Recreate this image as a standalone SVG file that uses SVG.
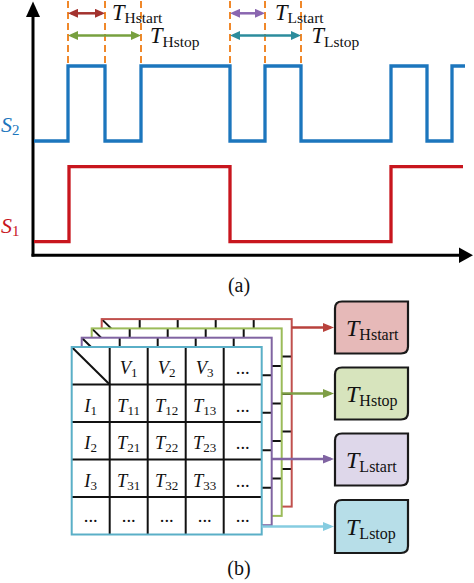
<svg xmlns="http://www.w3.org/2000/svg" width="474" height="583" viewBox="0 0 474 583">
<style>
text{font-family:"Liberation Serif","Times New Roman",serif;fill:#111}
.it{font-style:italic}
.dash{stroke:#F0882A;stroke-width:2;stroke-dasharray:7 4;fill:none}
.grid line{stroke:#111;stroke-width:2}
.cell{font-size:18.5px;text-anchor:middle}
.sub{font-size:13px}
.box{stroke:#1a1a1a;stroke-width:2.2}
.bt{font-size:24px}
.bs{font-size:16px;font-style:normal}
</style>
<defs>
<marker id="mHs" markerUnits="userSpaceOnUse" markerWidth="10" markerHeight="9" refX="7" refY="4.5" orient="auto-start-reverse"><path d="M0,0 L10,4.5 L0,9 z" fill="#A3322E"/></marker>
<marker id="mHp" markerUnits="userSpaceOnUse" markerWidth="10" markerHeight="9" refX="7" refY="4.5" orient="auto-start-reverse"><path d="M0,0 L10,4.5 L0,9 z" fill="#77A03F"/></marker>
<marker id="mLs" markerUnits="userSpaceOnUse" markerWidth="10" markerHeight="9" refX="7" refY="4.5" orient="auto-start-reverse"><path d="M0,0 L10,4.5 L0,9 z" fill="#8A66B0"/></marker>
<marker id="mLp" markerUnits="userSpaceOnUse" markerWidth="10" markerHeight="9" refX="7" refY="4.5" orient="auto-start-reverse"><path d="M0,0 L10,4.5 L0,9 z" fill="#2C8C9C"/></marker>
<marker id="cR" markerUnits="userSpaceOnUse" markerWidth="11" markerHeight="9" refX="8" refY="4.5" orient="auto"><path d="M0,0 L11,4.5 L0,9 z" fill="#B8423C"/></marker>
<marker id="cG" markerUnits="userSpaceOnUse" markerWidth="11" markerHeight="9" refX="8" refY="4.5" orient="auto"><path d="M0,0 L11,4.5 L0,9 z" fill="#7E9E45"/></marker>
<marker id="cP" markerUnits="userSpaceOnUse" markerWidth="11" markerHeight="9" refX="8" refY="4.5" orient="auto"><path d="M0,0 L11,4.5 L0,9 z" fill="#8064A2"/></marker>
<marker id="cB" markerUnits="userSpaceOnUse" markerWidth="11" markerHeight="9" refX="8" refY="4.5" orient="auto"><path d="M0,0 L11,4.5 L0,9 z" fill="#86CCE0"/></marker>
<g id="grid" class="grid">
<rect x="0" y="0" width="190" height="187.5" fill="#fff"/>
<line x1="38" y1="0" x2="38" y2="187.5"/>
<line x1="76" y1="0" x2="76" y2="187.5"/>
<line x1="114" y1="0" x2="114" y2="187.5"/>
<line x1="152" y1="0" x2="152" y2="187.5"/>
<line x1="0" y1="37.5" x2="190" y2="37.5"/>
<line x1="0" y1="75" x2="190" y2="75"/>
<line x1="0" y1="112.5" x2="190" y2="112.5"/>
<line x1="0" y1="150" x2="190" y2="150"/>
<line x1="0" y1="0" x2="38" y2="37.5"/>
</g>
</defs>

<!-- (a) timing diagram -->
<g id="axes">
<path d="M33,256.5 V15" stroke="#000" stroke-width="3" fill="none"/>
<polygon points="33,1.5 40,17 26,17" fill="#000"/>
<path d="M31.5,255.3 H461" stroke="#000" stroke-width="3" fill="none"/>
<polygon points="473,255.3 459,247.5 459,263" fill="#000"/>
</g>
<g id="markers-orange">
<line class="dash" x1="68" y1="1" x2="68" y2="66"/>
<line class="dash" x1="105" y1="1" x2="105" y2="66"/>
<line class="dash" x1="141" y1="1" x2="141" y2="66"/>
<line class="dash" x1="230" y1="1" x2="230" y2="66"/>
<line class="dash" x1="265" y1="1" x2="265" y2="66"/>
<line class="dash" x1="301" y1="1" x2="301" y2="66"/>
</g>
<g id="S2">
<path d="M34,141 H68 V66 H105 V141 H141 V66 H230 V141 H265 V66 H301 V141 H391 V66 H427 V141 H452 V66 H465" stroke="#1C76BD" stroke-width="3.3" fill="none"/>
<text x="1" y="132" style="fill:#1C76BD;font-size:22px"><tspan class="it">S</tspan><tspan font-size="15" dy="3">2</tspan></text>
</g>
<g id="S1">
<path d="M34,241.7 H69 V166.7 H230 V241.7 H391 V166.7 H463" stroke="#C8161E" stroke-width="3.3" fill="none"/>
<text x="1" y="233" style="fill:#C8161E;font-size:22px"><tspan class="it">S</tspan><tspan font-size="15" dy="3">1</tspan></text>
</g>
<g id="intervals">
<line x1="71" y1="13.3" x2="102" y2="13.3" stroke="#A3322E" stroke-width="2.5" marker-start="url(#mHs)" marker-end="url(#mHs)"/>
<line x1="71" y1="35.5" x2="138" y2="35.5" stroke="#77A03F" stroke-width="2.5" marker-start="url(#mHp)" marker-end="url(#mHp)"/>
<line x1="233" y1="13.3" x2="262" y2="13.3" stroke="#8A66B0" stroke-width="2.5" marker-start="url(#mLs)" marker-end="url(#mLs)"/>
<line x1="233" y1="35.5" x2="298" y2="35.5" stroke="#2C8C9C" stroke-width="2.5" marker-start="url(#mLp)" marker-end="url(#mLp)"/>
<text x="112" y="19.5" font-size="22.5"><tspan class="it">T</tspan><tspan font-size="15.5" dy="3">Hstart</tspan></text>
<text x="150" y="43" font-size="22.5"><tspan class="it">T</tspan><tspan font-size="15.5" dy="3.5">Hstop</tspan></text>
<text x="275" y="19.5" font-size="22.5"><tspan class="it">T</tspan><tspan font-size="15.5" dy="3">Lstart</tspan></text>
<text x="311.5" y="43" font-size="22.5"><tspan class="it">T</tspan><tspan font-size="15.5" dy="3.5">Lstop</tspan></text>
</g>
<text x="239" y="291.5" font-size="20" text-anchor="middle">(a)</text>

<!-- (b) stacked tables -->
<g id="layer-hstart">
<use href="#grid" x="101.7" y="319.1"/>
<rect x="101.7" y="319.1" width="190" height="187.5" fill="none" stroke="#C0504D" stroke-width="2"/>
</g>
<g id="layer-hstop">
<use href="#grid" x="91.7" y="328.4"/>
<rect x="91.7" y="328.4" width="190" height="187.5" fill="none" stroke="#9BBB59" stroke-width="2"/>
</g>
<g id="layer-lstart">
<use href="#grid" x="81.7" y="337.7"/>
<rect x="81.7" y="337.7" width="190" height="187.5" fill="none" stroke="#8064A2" stroke-width="2"/>
</g>
<g id="layer-lstop">
<use href="#grid" x="71.7" y="347"/>
<rect x="71.7" y="347" width="190" height="187.5" fill="none" stroke="#5AAFC7" stroke-width="2"/>
<text class="cell" x="128.7" y="374"><tspan class="it">V</tspan><tspan class="sub" dy="3">1</tspan></text>
<text class="cell" x="166.7" y="374"><tspan class="it">V</tspan><tspan class="sub" dy="3">2</tspan></text>
<text class="cell" x="204.7" y="374"><tspan class="it">V</tspan><tspan class="sub" dy="3">3</tspan></text>
<text class="cell" x="242.7" y="374">...</text>
<text class="cell" x="90.7" y="411.5"><tspan class="it">I</tspan><tspan class="sub" dy="3">1</tspan></text>
<text class="cell" x="128.7" y="411.5"><tspan class="it">T</tspan><tspan class="sub" dy="3">11</tspan></text>
<text class="cell" x="166.7" y="411.5"><tspan class="it">T</tspan><tspan class="sub" dy="3">12</tspan></text>
<text class="cell" x="204.7" y="411.5"><tspan class="it">T</tspan><tspan class="sub" dy="3">13</tspan></text>
<text class="cell" x="242.7" y="411.5">...</text>
<text class="cell" x="90.7" y="449"><tspan class="it">I</tspan><tspan class="sub" dy="3">2</tspan></text>
<text class="cell" x="128.7" y="449"><tspan class="it">T</tspan><tspan class="sub" dy="3">21</tspan></text>
<text class="cell" x="166.7" y="449"><tspan class="it">T</tspan><tspan class="sub" dy="3">22</tspan></text>
<text class="cell" x="204.7" y="449"><tspan class="it">T</tspan><tspan class="sub" dy="3">23</tspan></text>
<text class="cell" x="242.7" y="449">...</text>
<text class="cell" x="90.7" y="486.5"><tspan class="it">I</tspan><tspan class="sub" dy="3">3</tspan></text>
<text class="cell" x="128.7" y="486.5"><tspan class="it">T</tspan><tspan class="sub" dy="3">31</tspan></text>
<text class="cell" x="166.7" y="486.5"><tspan class="it">T</tspan><tspan class="sub" dy="3">32</tspan></text>
<text class="cell" x="204.7" y="486.5"><tspan class="it">T</tspan><tspan class="sub" dy="3">33</tspan></text>
<text class="cell" x="242.7" y="486.5">...</text>
<text class="cell" x="90.7" y="522">...</text>
<text class="cell" x="128.7" y="522">...</text>
<text class="cell" x="166.7" y="522">...</text>
<text class="cell" x="204.7" y="522">...</text>
<text class="cell" x="242.7" y="522">...</text>
</g>

<g id="connectors" fill="none" stroke-width="2.5">
<line x1="291.7" y1="327.5" x2="331" y2="327.5" stroke="#B8423C" marker-end="url(#cR)"/>
<line x1="281.7" y1="393.5" x2="331" y2="393.5" stroke="#7E9E45" marker-end="url(#cG)"/>
<line x1="271.7" y1="459" x2="331" y2="459" stroke="#8064A2" marker-end="url(#cP)"/>
<line x1="261.7" y1="526.5" x2="331" y2="526.5" stroke="#86CCE0" marker-end="url(#cB)"/>
</g>

<g id="box-hstart">
<path class="box" d="M342,301.5 H408 V346.5 Q408,353.5 401,353.5 H335 V308.5 Q335,301.5 342,301.5 Z" fill="#E6B9B8"/>
<text class="bt" x="346" y="335.5"><tspan class="it">T</tspan><tspan class="bs" dy="4">Hstart</tspan></text>
</g>
<g id="box-hstop">
<path class="box" d="M342,367.5 H408 V412.5 Q408,419.5 401,419.5 H335 V374.5 Q335,367.5 342,367.5 Z" fill="#D7E4BD"/>
<text class="bt" x="346" y="401.5"><tspan class="it">T</tspan><tspan class="bs" dy="4">Hstop</tspan></text>
</g>
<g id="box-lstart">
<path class="box" d="M342,433.5 H408 V478.5 Q408,485.5 401,485.5 H335 V440.5 Q335,433.5 342,433.5 Z" fill="#DED7EA"/>
<text class="bt" x="346" y="467.5"><tspan class="it">T</tspan><tspan class="bs" dy="4">Lstart</tspan></text>
</g>
<g id="box-lstop">
<path class="box" d="M342,500 H408 V546 Q408,553 401,553 H335 V507 Q335,500 342,500 Z" fill="#B7DEE8"/>
<text class="bt" x="346" y="534.5"><tspan class="it">T</tspan><tspan class="bs" dy="4">Lstop</tspan></text>
</g>

<text x="239" y="575" font-size="20" text-anchor="middle">(b)</text>
</svg>
